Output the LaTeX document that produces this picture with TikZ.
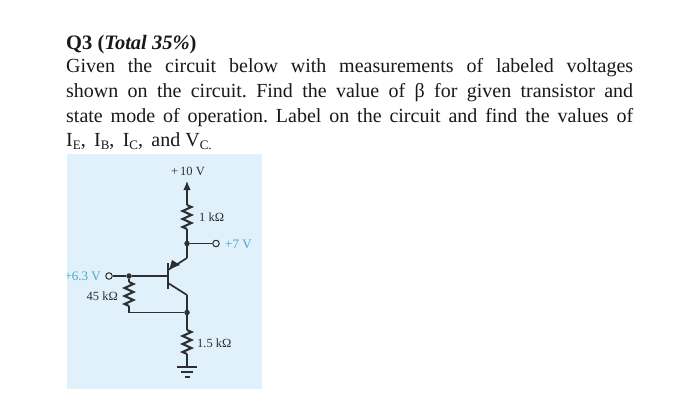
\documentclass[tikz,border=0pt]{standalone}
\usepackage{fontspec}
\setmainfont{Liberation Serif}
\usetikzlibrary{arrows.meta,decorations.pathmorphing}
\definecolor{panel}{HTML}{E1F1FB}
\definecolor{wirec}{HTML}{2C2E30}
\definecolor{volt}{HTML}{45A8C8}
\newcommand{\lowsub}[1]{\raisebox{-3.5pt}{\fontsize{13}{14}\selectfont #1}}
\tikzset{
  x=1pt,y=-1pt,
  wire/.style={draw=wirec,line width=1.3pt},
  res/.style={draw=wirec,line width=2.1pt,line join=miter,decorate,decoration={zigzag,segment length=8pt,amplitude=4.4pt}},
  dotn/.style={circle,fill=wirec,inner sep=0pt,minimum size=5.5pt},
  term/.style={circle,draw=wirec,fill=panel,line width=1pt,inner sep=0pt,minimum size=6.5pt},
  tline/.style={anchor=base west,inner sep=0pt,font=\fontsize{20}{24}\selectfont,text=black!90},
  clab/.style={inner sep=0pt,font=\fontsize{12.5}{14}\selectfont,text=wirec},
  vlab/.style={inner sep=0pt,font=\fontsize{13}{14}\selectfont,text=volt},
}
\begin{document}
\frenchspacing
\begin{tikzpicture}
\useasboundingbox (0,0) rectangle (700,409);
\fill[white] (0,0) rectangle (700,409);
\node[tline,font=\fontsize{20.5}{24}\selectfont\bfseries] (title) at (66,50) {Q3 (\textit{Total 35\%})};
\node[tline] (l1) at (66,73) {\makebox[567pt][s]{Given the circuit below with measurements of labeled voltages}};
\node[tline] (l2) at (66,98) {\makebox[567pt][s]{shown on the circuit. Find the value of β for given transistor and}};
\node[tline] (l3) at (66,122) {\makebox[567pt][s]{state mode of operation. Label on the circuit and find the values of}};
\node[tline] (l4) at (66,146) {I\lowsub{E},\, I\lowsub{B},\, I\lowsub{C},\, and V\lowsub{C.}};
\fill[panel] (67,154) rectangle (262,389);
% coordinates
\coordinate (top) at (187,181);
\coordinate (r1t) at (187,205);
\coordinate (r1b) at (187,229);
\node[dotn] (jc) at (187,243.5) {};
\node[term] (t7) at (216,243.5) {};
\coordinate (ek) at (187,258);
\coordinate (ee) at (168,270);
\coordinate (ck) at (187,295);
\coordinate (cc) at (168,283);
\coordinate (bt) at (168,263);
\coordinate (bb) at (168,289);
\coordinate (bm) at (168,276);
\node[term] (t6) at (109,276) {};
\node[dotn] (jb) at (129,276) {};
\coordinate (r2t) at (129,282);
\coordinate (r2b) at (129,306);
\coordinate (bl) at (129,312.5);
\node[dotn] (je) at (187,312.5) {};
\coordinate (r3t) at (187,330);
\coordinate (r3b) at (187,354);
\coordinate (g1) at (187,367);
% wires
\draw[wire,-{Latex[length=9pt,width=7.5pt]}] (r1t) -- (top);
\draw[res] (r1t) -- (r1b);
\draw[wire] (r1b) -- (jc);
\draw[wire] (jc) -- (t7);
\draw[wire] (jc) -- (ek);
\draw[wire,line width=1.7pt] (ek) -- (ee);
\draw[line width=2.6pt,draw=wirec] (bt) -- (bb);
\draw[wire] (t6) -- (jb);
\draw[wire] (jb) -- (bm);
\draw[wire,line width=1.7pt] (cc) -- (ck);
\draw[wire] (ck) -- (je);
\draw[wire] (jb) -- (r2t);
\draw[res] (r2t) -- (r2b);
\draw[wire] (r2b) -- (bl);
\draw[wire] (bl) -- (je);
\draw[wire] (je) -- (r3t);
\draw[res] (r3t) -- (r3b);
\draw[wire] (r3b) -- (g1);
% emitter arrowhead
\fill[wirec] (169.5,269) -- (172,260) -- (180,265) -- cycle;
% ground
\draw[line width=1.7pt,draw=wirec] (177,367) -- (197,367);
\draw[line width=1.7pt,draw=wirec] (181,372) -- (193,372);
\draw[line width=1.7pt,draw=wirec] (184.5,377) -- (189.5,377);
% labels
\node[clab] (v10) at (188,171) {+\,10 V};
\node[clab,anchor=west] (k1) at (199,217) {1 kΩ};
\node[vlab,anchor=west] (v7) at (225,244) {+7 V};
\begin{scope}
\clip (67,154) rectangle (262,389);
\node[vlab,anchor=east] (v6) at (101,276) {+6.3 V};
\end{scope}
\node[clab,anchor=east] (k45) at (118,296) {45 kΩ};
\node[clab,anchor=west] (k15) at (197,343) {1.5 kΩ};
\end{tikzpicture}
\end{document}
